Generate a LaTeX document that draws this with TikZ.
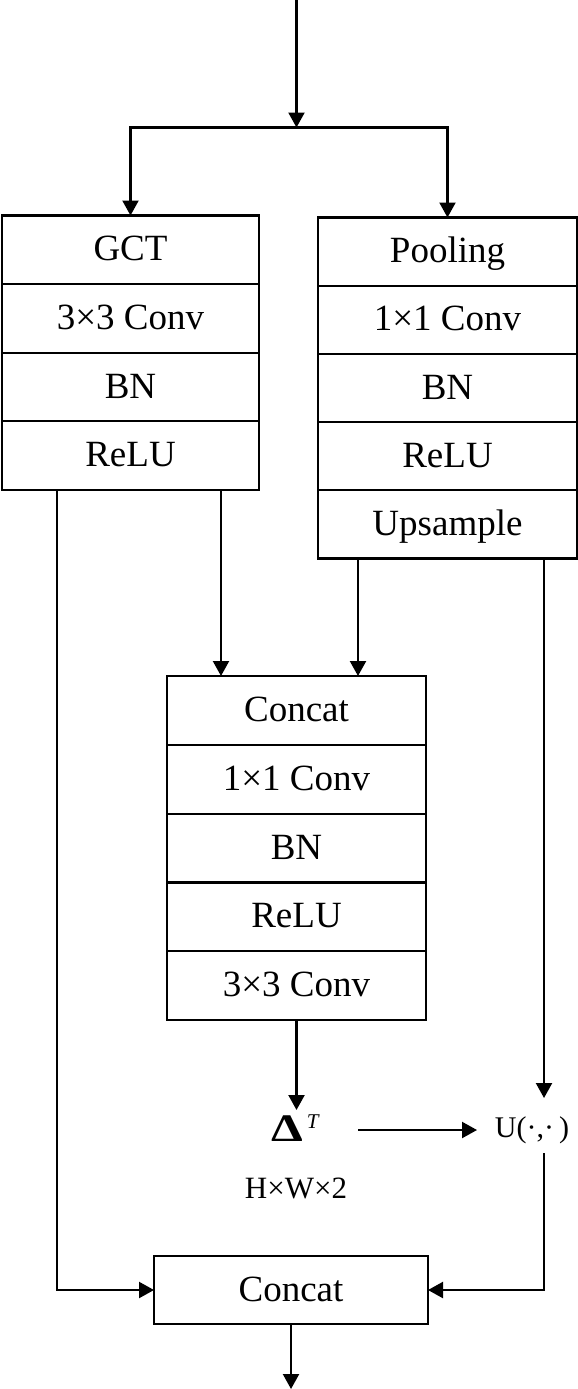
\documentclass[tikz,border=0pt]{standalone}
\usepackage{fontspec}
\setmainfont{Liberation Serif}
\usetikzlibrary{arrows.meta}
\tikzset{
  cell/.style={draw, line width=2.2pt, outer sep=0pt, inner sep=0pt,
    text height=26pt, text depth=4pt, font=\fontsize{37}{44}\selectfont},
  lcell/.style={cell, minimum width=257pt, minimum height=68.6pt},
  rcell/.style={cell, minimum width=259pt, minimum height=68.2pt},
  mcell/.style={cell, minimum width=259pt, minimum height=68.8pt},
  arr/.style={line width=2.2pt, -{Triangle[length=15pt,width=16pt]}},
  smalltext/.style={inner sep=0pt, font=\fontsize{31}{37}\selectfont},
}
\begin{document}
\begin{tikzpicture}[x=1pt,y=-1pt]
\useasboundingbox (0,0) rectangle (578,1389);
% left stack
\node[lcell] (l1) at (130.5,249.8) {GCT};
\node[lcell] (l2) at (130.5,318.4) {3×3 Conv};
\node[lcell] (l3) at (130.5,387.0) {BN};
\node[lcell] (l4) at (130.5,455.6) {ReLU};
% right stack
\node[rcell] (r1) at (447.5,251.6) {Pooling};
\node[rcell] (r2) at (447.5,319.8) {1×1 Conv};
\node[rcell] (r3) at (447.5,388.0) {BN};
\node[rcell] (r4) at (447.5,456.2) {ReLU};
\node[rcell] (r5) at (447.5,524.4) {Upsample};
% middle stack
\node[mcell] (m1) at (296.5,710.4) {Concat};
\node[mcell] (m2) at (296.5,779.2) {1×1 Conv};
\node[mcell] (m3) at (296.5,848.0) {BN};
\node[mcell] (m4) at (296.5,916.8) {ReLU};
\node[mcell] (m5) at (296.5,985.6) {3×3 Conv};
% bottom concat
\node[cell, minimum width=274pt, minimum height=68pt] (bc) at (291,1290) {Concat};
% delta, U, size
\node[inner sep=0pt, font=\fontsize{39}{44}\selectfont] (delta) at (295,1128)
  {\scalebox{1.3}[1.0]{\textbf{Δ}}\raisebox{13pt}{\fontsize{21}{24}\selectfont\itshape\,T}};
\node[smalltext, font=\fontsize{30}{36}\selectfont] (U) at (532,1130) {U(·,·\,)};
\node[smalltext] (hw) at (296,1188) {H×W×2};
% input / output
\coordinate (top) at (296.5,0);
\coordinate (split) at (296.5,127.5);
\coordinate (out) at (291,1389);
\draw[arr] (top) -- (split);
\draw[arr] (split) -| (l1.north);
\draw[arr] (split) -| (r1.north);
% left stack outputs
\draw[arr] ([xshift=90.5pt]l4.south) -- ([xshift=90.5pt]l4.south |- m1.north);
\draw[arr] ([xshift=-73.5pt]l4.south) |- (bc.west);
% right stack outputs
\draw[arr] ([xshift=-89.5pt]r5.south) -- ([xshift=-89.5pt]r5.south |- m1.north);
\coordinate (rU) at ([xshift=96.5pt]r5.south);
\draw[arr, shorten >=32pt] (rU) -- (rU |- U.center);
\draw[arr, shorten <=23pt] (rU |- U.center) |- (bc.east);
% middle to delta, delta to U
\draw[arr, shorten >=18pt] (m5.south) -- (m5.south |- delta.center);
\draw[arr, shorten <=63pt, shorten >=55pt] (delta.center |- U.center) -- (U.center);
% output
\draw[arr] (bc.south) -- (out);
\end{tikzpicture}
\end{document}
